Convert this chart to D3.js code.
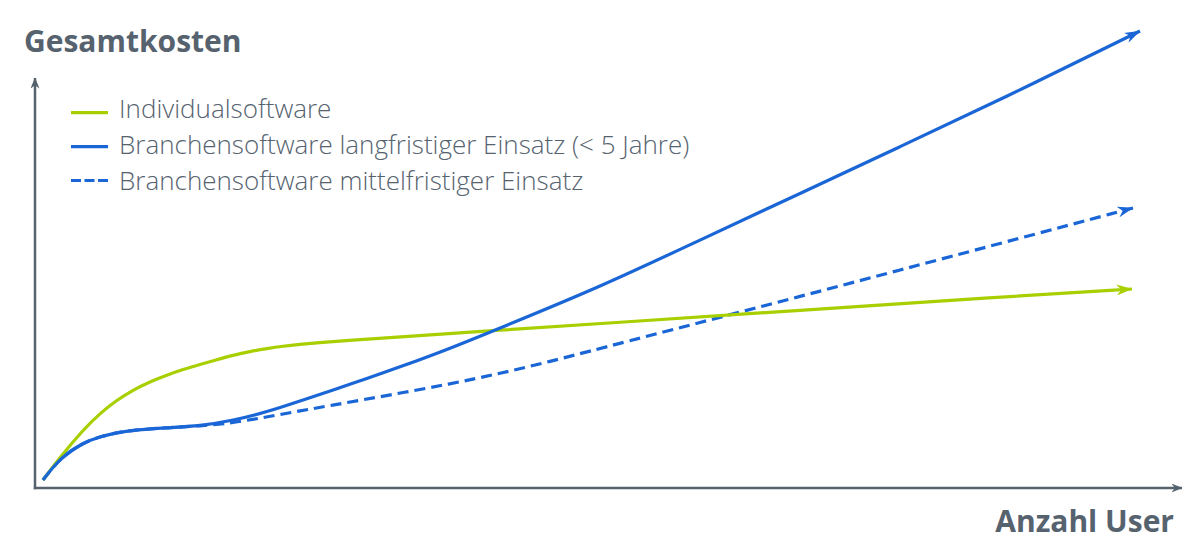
<!DOCTYPE html>
<html><head><meta charset="utf-8">
<script src="https://cdn.jsdelivr.net/npm/d3@7"></script>
<style>
body{margin:0;background:#fff;}
svg{display:block;}
</style></head>
<body>
<svg id="chart" width="1200" height="550"></svg>
<script>
// ---- data (x = Anzahl User, y = Gesamtkosten, arbitrary units) ----
const seriesNames = ["Individualsoftware","Branchensoftware langfristiger Einsatz (< 5 Jahre)","Branchensoftware mittelfristiger Einsatz"];
const individualX = [0.8,2.5,4.8,6.5,8.2,9.8,11.5,13.2,14.8,16.5,18.2,19.8,21.5,23.2,24.8,26.5,28.2,31.5,36.5,46.5,56.5,76.5,96.5,109.7];
const individualY = [0.8,3.07,5.8,7.47,8.8,9.8,10.63,11.3,11.85,12.35,12.83,13.27,13.65,13.95,14.18,14.36,14.51,14.77,15.12,15.78,16.44,17.77,19.1,19.9];
const langX = [0.8,2.5,4.8,6.5,8.2,9.8,13.2,16.5,19.8,23.2,26.5,29.8,33.2,36.5,41.5,46.5,56.5,66.5,76.5,86.5,96.5,110.5];
const langY = [0.8,3.0,4.53,5.13,5.53,5.8,6.03,6.2,6.75,7.6,8.7,9.8,10.95,12.1,13.95,16.0,20.1,24.8,29.45,34.13,38.8,45.7];
const mittelX = [0.8,2.5,4.8,6.5,8.2,9.8,13.2,16.5,19.8,24.8,29.8,35.5,41.5,46.5,51.5,56.5,66.5,76.5,86.5,96.5,109.8];
const mittelY = [0.8,3.0,4.53,5.13,5.53,5.8,6.03,6.2,6.5,7.4,8.3,9.3,10.4,11.45,12.65,13.95,16.55,19.15,21.8,24.45,28.0];
const axisTitles = {y:"Gesamtkosten", x:"Anzahl User"};

const svg = d3.select("#chart");
const axisColor = "#56636f";
const green = "#a8d000", blue = "#1a66d6";

const x = d3.scaleLinear().domain([0,114.7]).range([35,1182]);
const y = d3.scaleLinear().domain([0,41]).range([488,78]);

const defs = svg.append("defs");
function marker(id,color,len,wid){
  defs.append("marker").attr("id",id).attr("viewBox",`0 0 ${len} ${wid}`)
    .attr("refX",len-0.5).attr("refY",wid/2).attr("markerUnits","userSpaceOnUse")
    .attr("markerWidth",len).attr("markerHeight",wid).attr("orient","auto")
    .append("path").attr("d",`M0,0 L${len},${wid/2} L0,${wid} L${len*0.3},${wid/2} Z`).attr("fill",color);
}
marker("arrAxis",axisColor,11,9);
marker("arrGreen",green,16,11);
marker("arrBlue",blue,16,11);

// axes
svg.append("line").attr("x1",x(0)).attr("x2",x(0)).attr("y1",y(0)+1.2).attr("y2",y.range()[1])
  .attr("stroke",axisColor).attr("stroke-width",2.5).attr("marker-end","url(#arrAxis)");
svg.append("line").attr("x1",x(0)-1.2).attr("x2",x.range()[1]).attr("y1",y(0)).attr("y2",y(0))
  .attr("stroke",axisColor).attr("stroke-width",2.5).attr("marker-end","url(#arrAxis)");

svg.append("text").attr("x",24).attr("y",52).text(axisTitles.y)
  .attr("font-family","'Open Sans', sans-serif").attr("font-weight",700).attr("font-size",30).attr("fill",axisColor);
svg.append("text").attr("x",1174).attr("y",532).attr("text-anchor","end").text(axisTitles.x)
  .attr("font-family","'Open Sans', sans-serif").attr("font-weight",700).attr("font-size",30).attr("fill",axisColor);

const line = d3.line().x(d=>x(d[0])).y(d=>y(d[1])).curve(d3.curveBasis);
const zip = (a,b)=>a.map((v,i)=>[v,b[i]]);

svg.append("path").datum(zip(mittelX,mittelY)).attr("d",line).attr("fill","none")
  .attr("stroke",blue).attr("stroke-width",3.2).attr("stroke-dasharray","11,6").attr("marker-end","url(#arrBlue)");
svg.append("path").datum(zip(individualX,individualY)).attr("d",line).attr("fill","none")
  .attr("stroke",green).attr("stroke-width",3.2).attr("marker-end","url(#arrGreen)");
svg.append("path").datum(zip(langX,langY)).attr("d",line).attr("fill","none")
  .attr("stroke",blue).attr("stroke-width",3.2).attr("marker-end","url(#arrBlue)");

// legend
const legend = [
  {name:seriesNames[0], color:green, dash:null, ly:112.7, ty:117.5},
  {name:seriesNames[1], color:blue, dash:null, ly:146.7, ty:154},
  {name:seriesNames[2], color:blue, dash:"10,3.5", ly:180.5, ty:190}
];
const lg = svg.append("g");
legend.forEach(d=>{
  lg.append("line").attr("x1",71).attr("x2",108).attr("y1",d.ly).attr("y2",d.ly)
    .attr("stroke",d.color).attr("stroke-width",3.2).attr("stroke-dasharray",d.dash);
  lg.append("text").attr("x",119).attr("y",d.ty).text(d.name)
    .attr("font-family","'Open Sans', sans-serif").attr("font-weight",300).attr("font-size",26).attr("fill",axisColor);
});
</script>
</body></html>
